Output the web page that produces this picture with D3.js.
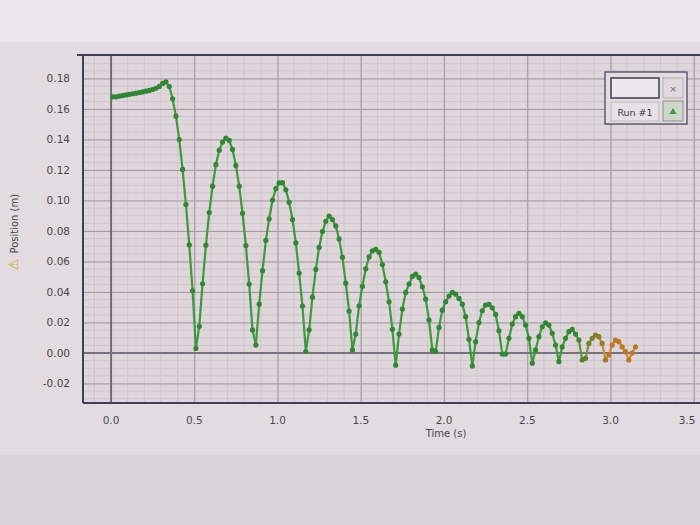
<!DOCTYPE html>
<html>
<head>
<meta charset="utf-8">
<script src="https://cdn.jsdelivr.net/npm/d3@7"></script>
<style>
  body { margin: 0; background: #e3dde1; }
  svg { display: block; font-family: "DejaVu Sans", sans-serif; }
</style>
</head>
<body>
<div id="chart"></div>
<script>
// Run #1 - bouncing ball, position vs time
var timeS = [
  0.01, 0.03, 0.05, 0.07, 0.09, 0.11, 0.13, 0.15, 0.17, 0.19, 0.21, 0.23, 0.25, 0.27, 0.29, 0.31, 0.33,
  0.35, 0.37, 0.39, 0.41, 0.43, 0.45, 0.47, 0.49, 0.51,
  0.53, 0.55, 0.57, 0.59, 0.61, 0.63, 0.65, 0.67, 0.69, 0.71, 0.73, 0.75, 0.77, 0.79, 0.81, 0.83, 0.85, 0.87,
  0.89, 0.91, 0.93, 0.95, 0.97, 0.99, 1.01, 1.03, 1.05, 1.07, 1.09, 1.11, 1.13, 1.15, 1.17,
  1.19, 1.21, 1.23, 1.25, 1.27, 1.29, 1.31, 1.33, 1.35, 1.37, 1.39, 1.41, 1.43, 1.45,
  1.47, 1.49, 1.51, 1.53, 1.55, 1.57, 1.59, 1.61, 1.63, 1.65, 1.67, 1.69, 1.71,
  1.73, 1.75, 1.77, 1.79, 1.81, 1.83, 1.85, 1.87, 1.89, 1.91, 1.93, 1.95,
  1.97, 1.99, 2.01, 2.03, 2.05, 2.07, 2.09, 2.11, 2.13, 2.15, 2.17,
  2.19, 2.21, 2.23, 2.25, 2.27, 2.29, 2.31, 2.33, 2.35, 2.37,
  2.39, 2.41, 2.43, 2.45, 2.47, 2.49, 2.51, 2.53,
  2.55, 2.57, 2.59, 2.61, 2.63, 2.65, 2.67, 2.69,
  2.71, 2.73, 2.75, 2.77, 2.79, 2.81, 2.83,
  2.85, 2.87, 2.89, 2.91, 2.93, 2.95, 2.97,
  2.99, 3.01, 3.03, 3.05, 3.07, 3.09, 3.11, 3.13, 3.15
];
var positionM = [
  0.1680, 0.1680, 0.1684, 0.1688, 0.1692, 0.1696, 0.1700, 0.1704, 0.1708, 0.1712, 0.1717, 0.1722, 0.1728, 0.1736, 0.1748, 0.1768, 0.1778,
  0.1747, 0.1667, 0.1553, 0.1400, 0.1204, 0.0973, 0.0709, 0.0408, 0.0030,
  0.0175, 0.0454, 0.0707, 0.0921, 0.1094, 0.1235, 0.1330, 0.1383, 0.1409, 0.1394, 0.1335, 0.1230, 0.1094, 0.0916, 0.0705, 0.0452, 0.0151, 0.0052,
  0.0320, 0.0540, 0.0738, 0.0880, 0.1003, 0.1078, 0.1115, 0.1117, 0.1070, 0.0988, 0.0875, 0.0722, 0.0524, 0.0308, 0.0010,
  0.0152, 0.0366, 0.0548, 0.0692, 0.0796, 0.0864, 0.0897, 0.0875, 0.0833, 0.0748, 0.0628, 0.0458, 0.0275, 0.0020,
  0.0124, 0.0310, 0.0437, 0.0552, 0.0630, 0.0670, 0.0680, 0.0660, 0.0580, 0.0467, 0.0336, 0.0155, -0.0080,
  0.0124, 0.0288, 0.0397, 0.0452, 0.0502, 0.0517, 0.0495, 0.0434, 0.0353, 0.0216, 0.0020, 0.0010,
  0.0168, 0.0281, 0.0336, 0.0373, 0.0397, 0.0386, 0.0358, 0.0320, 0.0238, 0.0090, -0.0085,
  0.0074, 0.0200, 0.0277, 0.0314, 0.0319, 0.0296, 0.0253, 0.0146, -0.0007, -0.0007,
  0.0096, 0.0190, 0.0238, 0.0260, 0.0238, 0.0183, 0.0096, -0.0067,
  0.0020, 0.0107, 0.0172, 0.0198, 0.0183, 0.0129, 0.0052, -0.0057,
  0.0040, 0.0096, 0.0140, 0.0155, 0.0124, 0.0085, -0.0046,
  -0.0035, 0.0063, 0.0096, 0.0118, 0.0107, 0.0063, -0.0046,
  -0.0013, 0.0052, 0.0085, 0.0074, 0.0040, 0.0009, -0.0046, 0.0000, 0.0040
];
var xTicks = [0.0, 0.5, 1.0, 1.5, 2.0, 2.5, 3.0, 3.5];
var yTicks = [-0.02, 0.00, 0.02, 0.04, 0.06, 0.08, 0.10, 0.12, 0.14, 0.16, 0.18];
var runName = "Run #1";

var width = 700, height = 525;
var plotLeft = 83, plotTop = 55, plotRight = 700, plotBottom = 403;

var svg = d3.select("#chart").append("svg")
    .attr("width", width)
    .attr("height", height);

// page background (screen photo tones)
svg.append("rect").attr("width", width).attr("height", height).attr("fill", "#e2dce0");
svg.append("rect").attr("y", 0).attr("width", width).attr("height", 42).attr("fill", "#ebe7eb");
svg.append("rect").attr("y", 455).attr("width", width).attr("height", 70).attr("fill", "#d9d4d8");

var x = d3.scaleLinear().domain([0, 3.0]).range([111, 610.5]);
var y = d3.scaleLinear().domain([0, 0.18]).range([353, 78.5]);

svg.append("defs").append("clipPath").attr("id", "plotclip")
  .append("rect")
    .attr("x", plotLeft).attr("y", plotTop)
    .attr("width", plotRight - plotLeft).attr("height", plotBottom - plotTop);

var plot = svg.append("g").attr("clip-path", "url(#plotclip)");

plot.append("rect")
    .attr("x", plotLeft).attr("y", plotTop)
    .attr("width", plotRight - plotLeft).attr("height", plotBottom - plotTop)
    .attr("fill", "#ded6db");

// minor grid
var minorX = d3.range(-1, 36).map(function(d) { return d / 10; });
var minorY = d3.range(-7, 40).map(function(d) { return d / 200; });
plot.append("g").selectAll("line").data(minorX).enter().append("line")
    .attr("x1", function(d) { return x(d); }).attr("x2", function(d) { return x(d); })
    .attr("y1", plotTop).attr("y2", plotBottom)
    .attr("stroke", "#cfc6cc").attr("stroke-width", 1);
plot.append("g").selectAll("line").data(minorY).enter().append("line")
    .attr("y1", function(d) { return y(d); }).attr("y2", function(d) { return y(d); })
    .attr("x1", plotLeft).attr("x2", plotRight)
    .attr("stroke", "#cfc6cc").attr("stroke-width", 1);

// major grid
var xAxisG = plot.append("g")
    .attr("transform", "translate(0," + plotBottom + ")")
    .call(d3.axisBottom(x).tickValues(xTicks).tickSize(-(plotBottom - plotTop)).tickFormat(""));
var yAxisG = plot.append("g")
    .attr("transform", "translate(" + plotLeft + ",0)")
    .call(d3.axisLeft(y).tickValues(yTicks).tickSize(-(plotRight - plotLeft)).tickFormat(""));
[xAxisG, yAxisG].forEach(function(g) {
    g.select(".domain").remove();
    g.selectAll("line").attr("stroke", "#a69ca4").attr("stroke-width", 1.1);
});

// zero lines
plot.append("line")
    .attr("x1", x(0)).attr("x2", x(0)).attr("y1", plotTop).attr("y2", plotBottom)
    .attr("stroke", "#4d4a55").attr("stroke-width", 1.3);
plot.append("line")
    .attr("x1", plotLeft).attr("x2", plotRight).attr("y1", y(0)).attr("y2", y(0))
    .attr("stroke", "#77727b").attr("stroke-width", 2);

// data colour: green, turning orange at the tail
var green = "#3a9a3c", orange = "#d98a2c";
var tailColor = d3.scaleLinear().domain([2.78, 3.0]).range([0, 1]).clamp(true);
function colorAt(t) { return d3.interpolateRgb(green, orange)(tailColor(t)); }

var points = timeS.map(function(t, i) { return { t: t, p: positionM[i] }; });
var segs = d3.pairs(points);

plot.append("g").selectAll("line").data(segs).enter().append("line")
    .attr("x1", function(d) { return x(d[0].t); })
    .attr("y1", function(d) { return y(d[0].p); })
    .attr("x2", function(d) { return x(d[1].t); })
    .attr("y2", function(d) { return y(d[1].p); })
    .attr("stroke", function(d) { return colorAt(d[1].t); })
    .attr("stroke-width", 2.2)
    .attr("stroke-linecap", "round");

plot.append("g").selectAll("circle").data(points).enter().append("circle")
    .attr("cx", function(d) { return x(d.t); })
    .attr("cy", function(d) { return y(d.p); })
    .attr("r", 2.6)
    .attr("fill", function(d) { return d3.color(colorAt(d.t)).darker(0.4); });

// plot frame
svg.append("line").attr("x1", plotLeft - 6).attr("x2", plotRight).attr("y1", plotTop).attr("y2", plotTop)
    .attr("stroke", "#3c3f58").attr("stroke-width", 2);
svg.append("line").attr("x1", plotLeft).attr("x2", plotLeft).attr("y1", plotTop).attr("y2", plotBottom)
    .attr("stroke", "#3c3f58").attr("stroke-width", 2);
svg.append("line").attr("x1", plotLeft).attr("x2", plotRight).attr("y1", plotBottom).attr("y2", plotBottom)
    .attr("stroke", "#3c3f58").attr("stroke-width", 2);

// tick labels (plain hyphen minus, as on screen)
var fmtY = function(d) { return d3.format(".2f")(d).replace("\u2212", "-"); };
svg.append("g").selectAll("text").data(yTicks).enter().append("text")
    .attr("x", 70).attr("y", function(d) { return y(d); })
    .attr("dy", "0.35em")
    .attr("text-anchor", "end")
    .attr("font-size", 10.5)
    .attr("fill", "#4a454c")
    .text(fmtY);

svg.append("g").selectAll("text").data(xTicks).enter().append("text")
    .attr("x", function(d) { return Math.min(x(d), 687); }).attr("y", 424)
    .attr("text-anchor", "middle")
    .attr("font-size", 10.5)
    .attr("fill", "#4a454c")
    .text(function(d) { return d3.format(".1f")(d); });

// axis titles
svg.append("text")
    .attr("x", 446).attr("y", 437)
    .attr("text-anchor", "middle")
    .attr("font-size", 10)
    .attr("fill", "#4a454c")
    .text("Time (s)");

var yTitle = svg.append("text")
    .attr("transform", "translate(18,232)rotate(-90)")
    .attr("text-anchor", "middle")
    .attr("font-size", 10)
    .attr("fill", "#4a454c");
yTitle.append("tspan").attr("fill", "#d9a21f").attr("font-size", 13).text("\u26A0");
yTitle.append("tspan").text("\u2002Position (m)");

// legend box
var legend = svg.append("g").attr("transform", "translate(605,72)");
legend.append("rect").attr("width", 82).attr("height", 52)
    .attr("fill", "#e3dce1").attr("stroke", "#4a4a5c").attr("stroke-width", 1.3);
legend.append("rect").attr("x", 6).attr("y", 6).attr("width", 48).attr("height", 20)
    .attr("fill", "#ece7eb").attr("stroke", "#3c3c4c").attr("stroke-width", 1.5);
legend.append("rect").attr("x", 58).attr("y", 6).attr("width", 20).attr("height", 20)
    .attr("fill", "#e0dade").attr("stroke", "#b4adb2").attr("stroke-width", 1);
legend.append("text").attr("x", 68).attr("y", 19.5).attr("text-anchor", "middle")
    .attr("font-size", 9).attr("fill", "#6a6570").text("\u00D7");
legend.append("rect").attr("x", 6).attr("y", 30).attr("width", 48).attr("height", 19)
    .attr("fill", "#e7e1e5").attr("stroke", "#bdb6bb").attr("stroke-width", 1);
legend.append("text").attr("x", 30).attr("y", 43.5).attr("text-anchor", "middle")
    .attr("font-size", 9.5).attr("fill", "#3e3a42").text(runName);
legend.append("rect").attr("x", 58).attr("y", 29).attr("width", 20).attr("height", 20)
    .attr("fill", "#cfd6cc").attr("stroke", "#8a8e88").attr("stroke-width", 1);
legend.append("path")
    .attr("d", d3.symbol().type(d3.symbolTriangle).size(22))
    .attr("transform", "translate(68,40)")
    .attr("fill", green);
</script>
</body>
</html>
